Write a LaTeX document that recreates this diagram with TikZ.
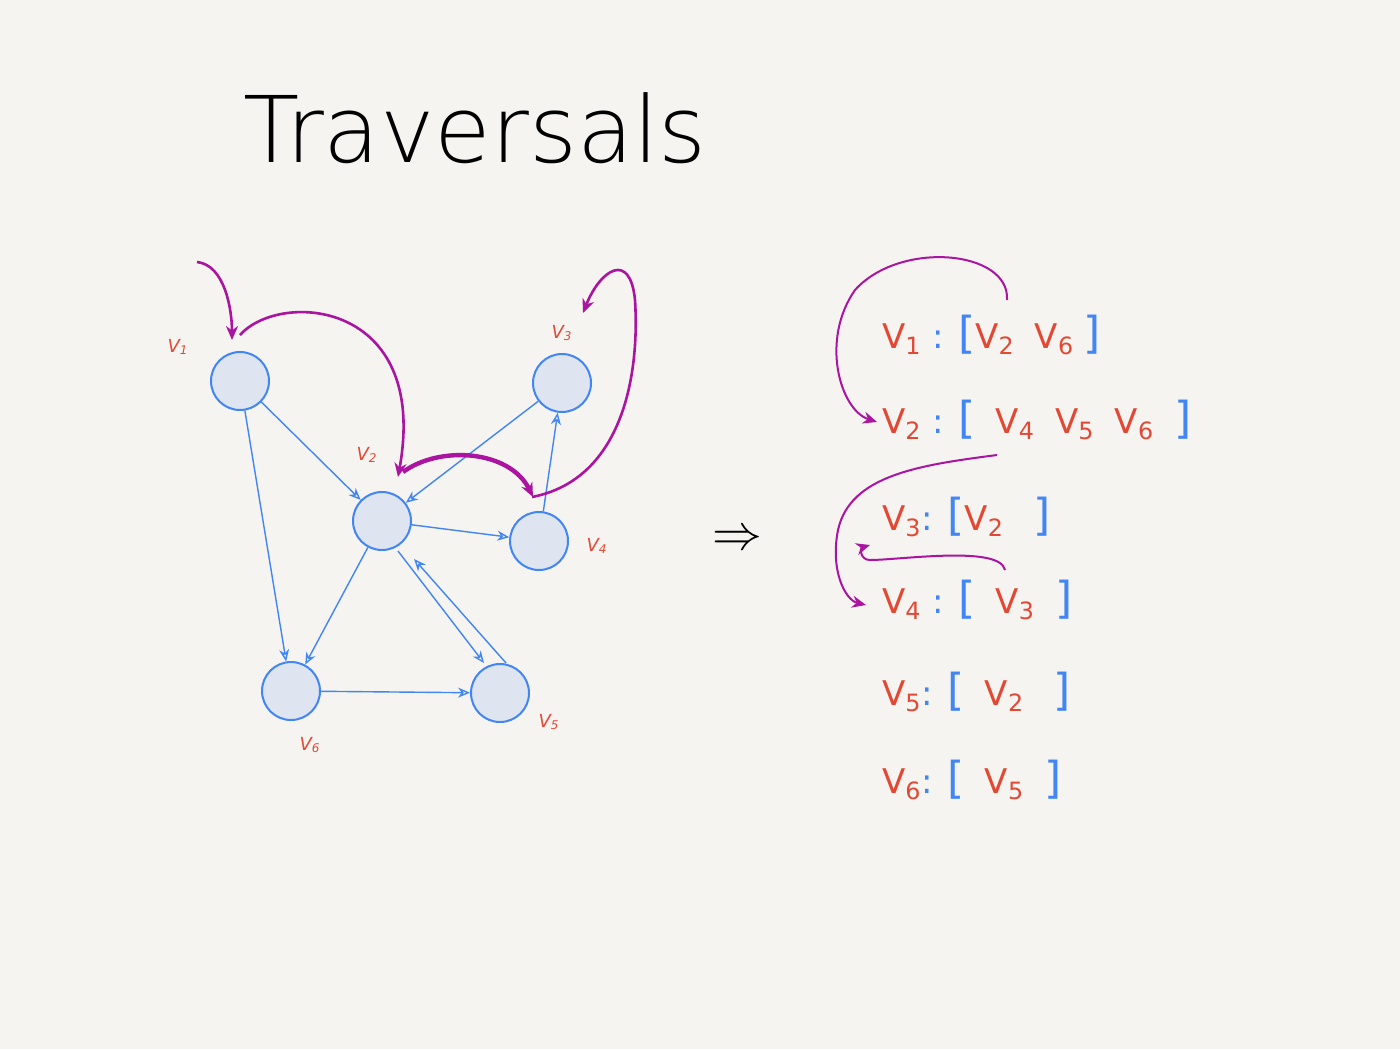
\documentclass[tikz,border=0pt]{standalone}
\usepackage{fontspec}
\setmainfont{DejaVu Sans}
\usetikzlibrary{arrows.meta}
\definecolor{bg}{RGB}{245,244,240}
\definecolor{rd}{RGB}{226,72,52}
\definecolor{bl}{RGB}{66,133,244}
\definecolor{mg}{RGB}{170,20,160}
\definecolor{fl}{RGB}{222,228,240}
\newcommand{\lb}{\textcolor{bl}{\fontsize{22}{22}\selectfont[}}
\newcommand{\rb}{\textcolor{bl}{\fontsize{22}{22}\selectfont]}}
\begin{document}
\begin{tikzpicture}[x=0.5pt,y=-0.5pt,
  vert/.style={circle,draw=bl,fill=fl,line width=1pt,minimum size=29pt,inner sep=0},
  lab/.style={text=rd,font=\fontsize{9}{10}\selectfont\itshape},
  ed/.style={draw=bl,line width=0.7pt,-{Stealth[length=6pt,width=5pt,open]}},
  mag/.style={draw=mg,line width=1.3pt,-{Stealth[length=7pt,width=6pt]}},
  row/.style={anchor=west,font=\fontsize{17}{18}\selectfont}]
\fill[bg] (0,0) rectangle (1400,1049);
\node (title) at (475,128) {\fontsize{46}{50}\selectfont\setmainfont{DejaVu Sans ExtraLight}Traversals};
\node[vert] (v1) at (240,381) {};
\node[vert] (v2) at (382,521) {};
\node[vert] (v3) at (562,383) {};
\node[vert] (v4) at (539,541) {};
\node[vert] (v6) at (291,691) {};
\node[vert] (v5) at (500,693) {};
\node[lab] (l1) at (178,347) {V\textsubscript{1}};
\node[lab] (l2) at (367,455) {V\textsubscript{2}};
\node[lab] (l3) at (562,333) {V\textsubscript{3}};
\node[lab] (l4) at (597,546) {V\textsubscript{4}};
\node[lab] (l6) at (310,745) {V\textsubscript{6}};
\node[lab] (l5) at (549,722) {V\textsubscript{5}};
\draw[ed] (v1) -- (v2);
\draw[ed] (v1) -- (v6);
\draw[ed] (v3) -- (v2);
\draw[ed] (v2) -- (v4);
\draw[ed] (v2) -- (v6);
\draw[ed] ([xshift=8pt]v2.south) -- ([xshift=-8pt]v5.north);
\draw[ed] ([xshift=3pt]v5.north) -- ([xshift=16pt,yshift=-4pt]v2.south);
\draw[ed] (v6) -- (v5);
\draw[ed] (v4) -- (v3);
\coordinate (s1) at (197,262);
\coordinate (e1) at (232,340);
\draw[mag] (s1) .. controls (225,265) and (232,310) .. (e1);
\coordinate (s2) at (240,335);
\coordinate (e2) at (398,477);
\draw[mag] (s2) .. controls (280,290) and (430,300) .. (e2);
\coordinate (s3) at (403,472);
\coordinate (e3) at (533,497);
\draw[mag,line width=2.2pt] (s3) .. controls (440,445) and (510,450) .. (e3);
\coordinate (s4) at (532,497);
\coordinate (e4) at (583,313);
\draw[mag] (s4) .. controls (620,480) and (640,380) .. (635,300) .. controls (630,250) and (600,270) .. (e4);
\node (imp) at (737,540) {\fontsize{30}{30}\selectfont$\Rightarrow$};
\node[row] (r1) at (875,335) {\textcolor{rd}{V\textsubscript{1}} \textcolor{bl}{:} \lb\textcolor{rd}{V\textsubscript{2}\; V\textsubscript{6}}\;\rb};
\node[row] (r2) at (875,420) {\textcolor{rd}{V\textsubscript{2}} \textcolor{bl}{:} \lb\; \textcolor{rd}{V\textsubscript{4}\; V\textsubscript{5}\; V\textsubscript{6}} \;\rb};
\node[row] (r3) at (875,517) {\textcolor{rd}{V\textsubscript{3}}\textcolor{bl}{:} \lb\textcolor{rd}{V\textsubscript{2}} \;\;\rb};
\node[row] (r4) at (875,600) {\textcolor{rd}{V\textsubscript{4}} \textcolor{bl}{:} \lb\; \textcolor{rd}{V\textsubscript{3}}\; \rb};
\node[row] (r5) at (875,692) {\textcolor{rd}{V\textsubscript{5}}\textcolor{bl}{:} \lb\; \textcolor{rd}{V\textsubscript{2}} \;\;\rb};
\node[row] (r6) at (875,780) {\textcolor{rd}{V\textsubscript{6}}\textcolor{bl}{:} \lb\; \textcolor{rd}{V\textsubscript{5}}\; \rb};
\coordinate (a1) at (1007,300);
\coordinate (b1) at (877,422);
\draw[mag,line width=1pt] (a1) .. controls (1010,250) and (900,240) .. (855,290) .. controls (820,340) and (840,410) .. (b1);
\coordinate (a2) at (997,455);
\coordinate (b2) at (866,605);
\draw[mag,line width=1pt] (a2) .. controls (920,465) and (850,475) .. (838,530) .. controls (830,570) and (845,600) .. (b2);
\coordinate (a3) at (1005,570);
\coordinate (b3) at (870,545);
\draw[mag,line width=1pt] (a3) .. controls (1000,545) and (900,560) .. (870,560) .. controls (860,560) and (860,548) .. (b3);
\end{tikzpicture}
\end{document}
